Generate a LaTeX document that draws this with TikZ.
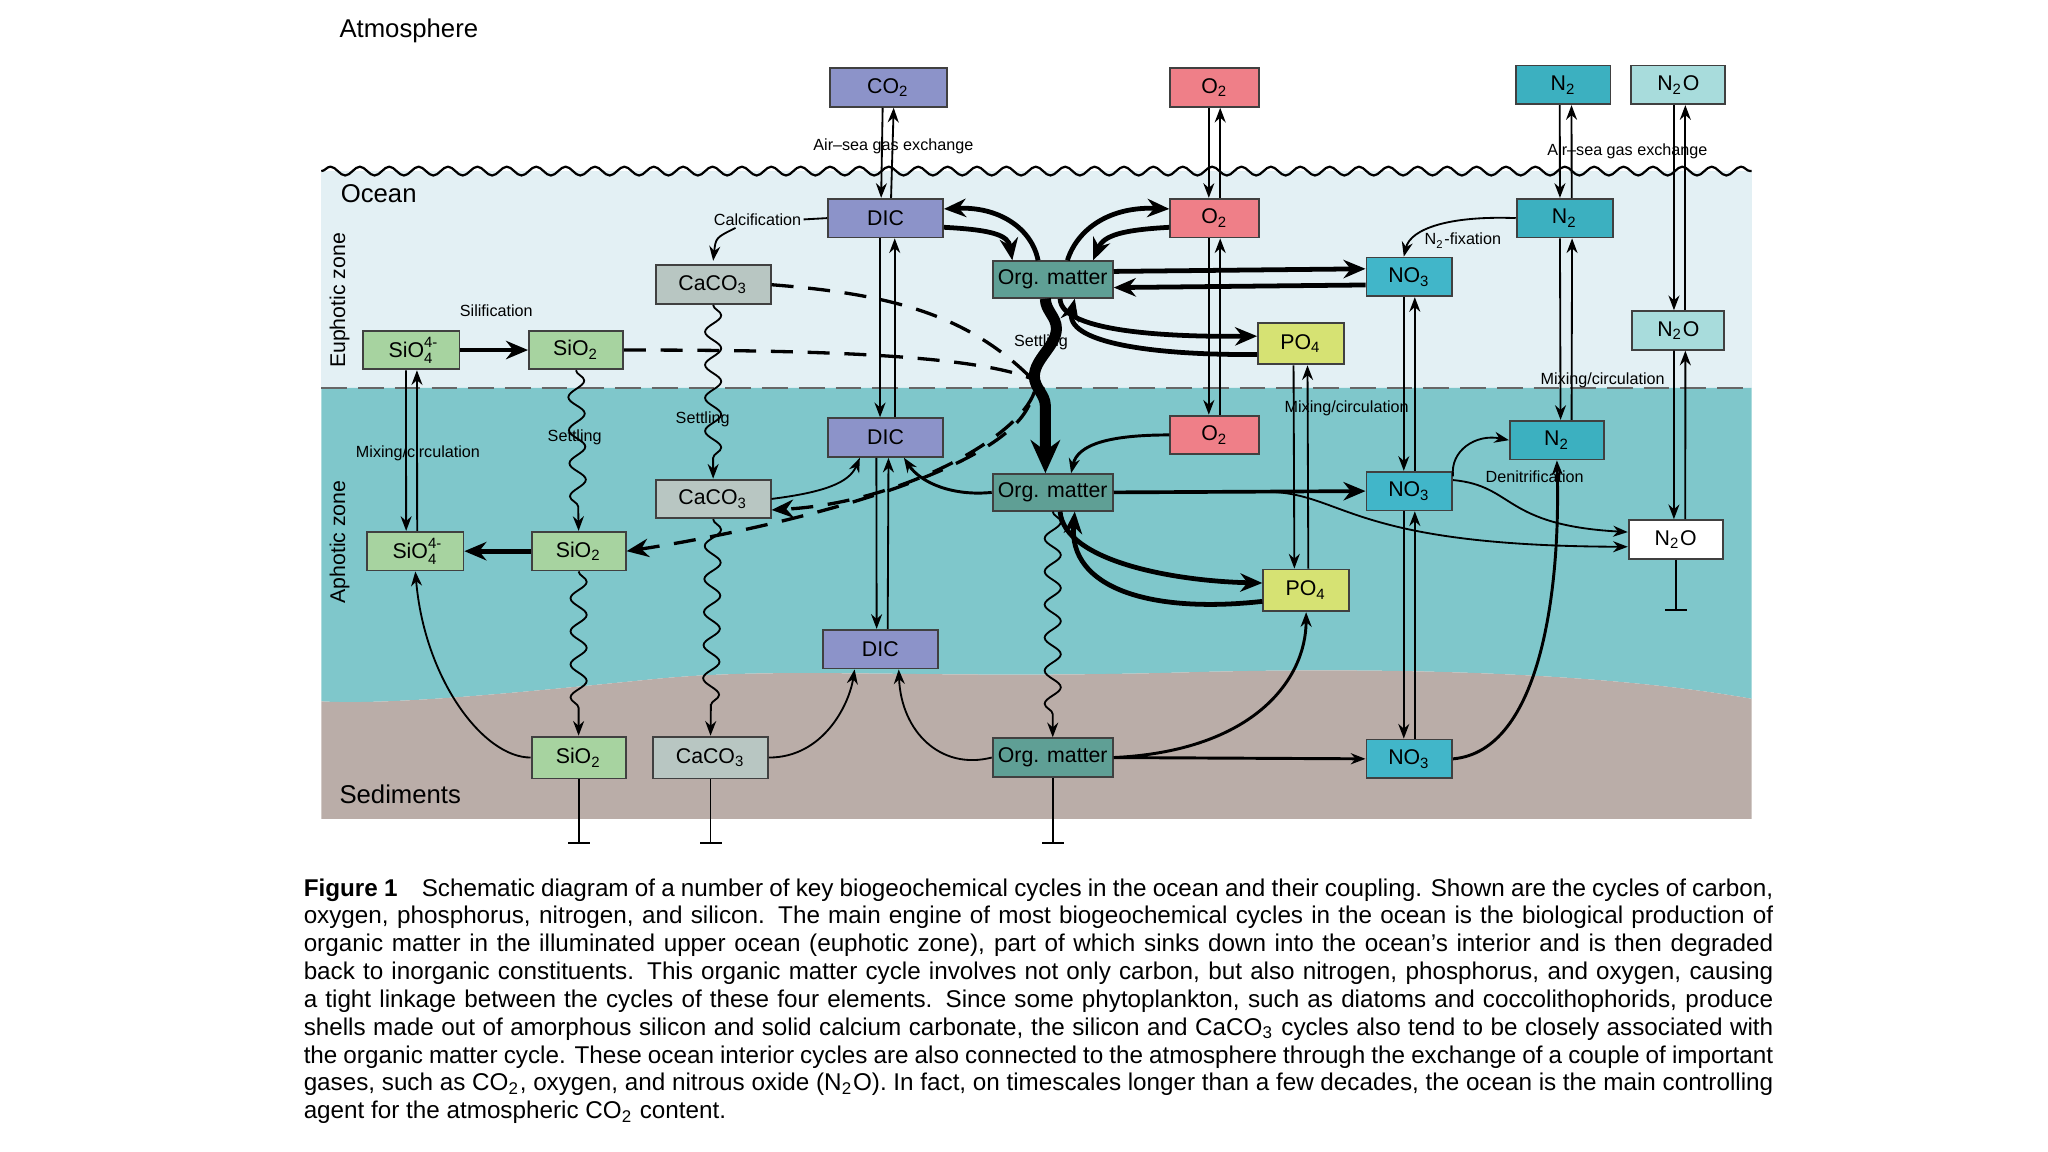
\documentclass[tikz,border=0pt]{standalone}
\usepackage{fontspec}
\setmainfont{Liberation Sans}
\usetikzlibrary{decorations.pathmorphing,arrows.meta,calc}
\definecolor{cdic}{HTML}{8C93C9}
\definecolor{co2}{HTML}{EF7F88}
\definecolor{cn2}{HTML}{3CB0C0}
\definecolor{cn2o}{HTML}{A8DCDC}
\definecolor{cno3}{HTML}{41B6C9}
\definecolor{corg}{HTML}{5F9F95}
\definecolor{cpo4}{HTML}{D6E273}
\definecolor{csio}{HTML}{A7D3A0}
\definecolor{ccac}{HTML}{B8C6C2}
\definecolor{ceu}{HTML}{E3F0F4}
\definecolor{caph}{HTML}{7FC7CB}
\definecolor{csed}{HTML}{BAADA8}
\newcommand{\sub}[1]{\textsubscript{#1}}
\newcommand{\sifour}{SiO\makebox[0pt][l]{\raisebox{0.3pt}{\textsuperscript{4-}}}\raisebox{-0.6pt}{\textsubscript{4}}\hspace{0.5em}}
\begin{document}
\begin{tikzpicture}[x=0.0125cm,y=-0.0125cm,
 box/.style={draw=black!75,line width=0.5pt,minimum height=0.37cm,inner sep=0pt,font=\fontsize{5.8}{6.5}\selectfont},
 lab/.style={font=\fontsize{4.4}{5}\selectfont,inner sep=0.5pt},
 a/.style={-{Stealth[length=4pt,width=3pt]},line width=0.5pt},
 A/.style={-{Stealth[length=6pt,width=5pt]},line width=1.3pt},
 w/.style={a,decorate,decoration={snake,amplitude=2.2pt,segment length=9pt,post length=5pt}},
 dsh/.style={dashed,dash pattern=on 6pt off 4pt,line width=0.9pt},
 gnd/.style={-{Bar[width=6pt]},line width=0.5pt}]
\useasboundingbox (0,0) rectangle (1568,882);
% backgrounds
\fill[ceu] (246,131) rectangle (1341,297);
\fill[caph] (246,297) -- (1341,297) -- (1341,535) .. controls (1200,510) and (1000,512) .. (900,515) .. controls (700,520) and (600,510) .. (500,520) .. controls (400,530) and (300,540) .. (246,537) -- cycle;
\fill[csed] (246,537) .. controls (300,540) and (400,530) .. (500,520) .. controls (600,510) and (700,520) .. (900,515) .. controls (1000,512) and (1200,510) .. (1341,535) -- (1341,627) -- (246,627) -- cycle;
\draw[line width=0.6pt,decorate,decoration={snake,amplitude=1.2pt,segment length=8pt}] (246,131) -- (1341,131);
\draw[dash pattern=on 7pt off 3pt,line width=0.5pt,black!60] (246,297) -- (1341,297);
\node[anchor=west,font=\fontsize{7}{8}\selectfont] (tatm) at (250,24) {Atmosphere};
\node[anchor=west,font=\fontsize{7}{8}\selectfont] (toc) at (251,148) {Ocean};
\node[anchor=west,font=\fontsize{7}{8}\selectfont] (tsed) at (250,608) {Sediments};
\node[rotate=90,font=\fontsize{5.8}{6}\selectfont] (teu) at (260,230) {Euphotic zone};
\node[rotate=90,font=\fontsize{5.8}{6}\selectfont] (taph) at (260,415) {Aphotic zone};
% boxes
\node[box,fill=cdic,minimum width=1.12cm] (co2a) at (680,67) {CO\sub2};
\node[box,fill=co2,minimum width=0.85cm] (o2a) at (930,67) {O\sub2};
\node[box,fill=cn2,minimum width=0.9cm] (n2a) at (1197,65) {N\sub2};
\node[box,fill=cn2o,minimum width=0.9cm] (n2oa) at (1285,65) {N\sub2O};
\node[box,fill=cdic,minimum width=1.1cm] (dic1) at (678,167) {DIC};
\node[box,fill=co2,minimum width=0.85cm] (o2e) at (930,167) {O\sub2};
\node[box,fill=cn2,minimum width=0.92cm] (n2e) at (1198,167) {N\sub2};
\node[box,fill=ccac,minimum width=1.1cm] (cae) at (546,218) {CaCO\sub3};
\node[box,fill=corg,minimum width=1.15cm,minimum height=0.35cm] (orge) at (806,214) {Org. matter};
\node[box,fill=cno3,minimum width=0.82cm] (no3e) at (1079,212) {NO\sub3};
\node[box,fill=csio,minimum width=0.92cm] (sio4e) at (315,268) {\sifour};
\node[box,fill=csio,minimum width=0.9cm] (sio2e) at (441,268) {SiO\sub2};
\node[box,fill=cpo4,minimum width=0.82cm,minimum height=0.4cm] (po4e) at (996,263) {PO\sub4};
\node[box,fill=cn2o,minimum width=0.88cm] (n2oe) at (1285,253) {N\sub2O};
\node[box,fill=cdic,minimum width=1.1cm] (dic2) at (678,335) {DIC};
\node[box,fill=co2,minimum width=0.85cm] (o2p) at (930,333) {O\sub2};
\node[box,fill=cn2,minimum width=0.9cm] (n2p) at (1192,337) {N\sub2};
\node[box,fill=ccac,minimum width=1.1cm] (cap2) at (546,382) {CaCO\sub3};
\node[box,fill=corg,minimum width=1.15cm,minimum height=0.35cm] (orgp) at (806,377) {Org. matter};
\node[box,fill=cno3,minimum width=0.82cm] (no3p) at (1079,376) {NO\sub3};
\node[box,fill=csio,minimum width=0.92cm] (sio4p) at (318,422) {\sifour};
\node[box,fill=csio,minimum width=0.9cm] (sio2p) at (443,422) {SiO\sub2};
\node[box,fill=white,minimum width=0.9cm] (n2op) at (1283,413) {N\sub2O};
\node[box,fill=cpo4,minimum width=0.82cm,minimum height=0.4cm] (po4p) at (1000,452) {PO\sub4};
\node[box,fill=cdic,minimum width=1.1cm] (dic3) at (674,497) {DIC};
\node[box,fill=csio,minimum width=0.9cm,minimum height=0.4cm] (sio2s) at (443,580) {SiO\sub2};
\node[box,fill=ccac,minimum width=1.1cm,minimum height=0.4cm] (cas) at (544,580) {CaCO\sub3};
\node[box,fill=corg,minimum width=1.15cm] (orgs) at (806,580) {Org. matter};
\node[box,fill=cno3,minimum width=0.82cm] (no3s) at (1079,581) {NO\sub3};
\coordinate (g1) at (443,646); \coordinate (g2) at (544,646); \coordinate (g3) at (806,646); \coordinate (g4) at (1283,468);
% labels
\node[lab] (l1) at (684,112) {Air--sea gas exchange};
\node[lab] (l2) at (1246,116) {Air--sea gas exchange};
\node[lab] (l3) at (580,168) {Calcification};
\node[lab] (l4) at (380,238) {Silification};
\node[lab] (l5) at (320,347) {Mixing/circulation};
\node[lab] (l6) at (440,335) {Settling};
\node[lab] (l7) at (538,321) {Settling};
\node[lab] (l8) at (797,262) {Settling};
\node[lab] (l9) at (1031,313) {Mixing/circulation};
\node[lab] (l10) at (1227,291) {Mixing/circulation};
\node[lab] (l11) at (1120,184) {N\sub2-fixation};
\node[lab] (l12) at (1175,365) {Denitrification};
% gas exchange
\draw[a] ([xshift=-1.5pt]co2a.south) -- ([xshift=-1.2pt]dic1.north);
\draw[a] ([xshift=1.5pt]dic1.north) -- ([xshift=1.5pt]co2a.south);
\draw[a] ([xshift=-1.6pt]o2a.south) -- ([xshift=-1.6pt]o2e.north);
\draw[a] ([xshift=1.5pt]o2e.north) -- ([xshift=1.5pt]o2a.south);
\draw[a] ([xshift=-1.6pt]o2e.south) -- ([xshift=-1.6pt]o2p.north);
\draw[a] ([xshift=1.5pt]o2p.north) -- ([xshift=1.5pt]o2e.south);
\draw[a] ([xshift=-1pt]n2a.south) -- ([xshift=-1.3pt]n2e.north);
\draw[a] ([xshift=1.9pt]n2e.north) -- ([xshift=2.2pt]n2a.south);
\draw[a] ([xshift=-1.2pt]n2oa.south) -- ([xshift=-1.2pt]n2oe.north);
\draw[a] ([xshift=1.9pt]n2oe.north) -- ([xshift=1.9pt]n2oa.south);
\draw[a] ([xshift=-1.2pt]n2oe.south) -- ([xshift=-0.5pt]n2op.north);
\draw[a] ([xshift=2.6pt]n2op.north) -- ([xshift=1.9pt]n2oe.south);
\draw[gnd] (n2op.south) -- (g4);
\draw[a] ([xshift=-1.3pt]n2e.south) -- ([xshift=1pt]n2p.north);
\draw[a] ([xshift=4pt]n2p.north) -- ([xshift=2pt]n2e.south);
\draw[a] (n2e.west) .. controls (1110,165) and (1080,175) .. ([xshift=-1.5pt]no3e.north);
% DIC vertical
\draw[a] ([xshift=-1.5pt]dic1.south) -- ([xshift=-1.5pt]dic2.north);
\draw[a] ([xshift=2.5pt]dic2.north) -- ([xshift=2.5pt]dic1.south);
\draw[a] ([xshift=-2.5pt]dic2.south) -- ([xshift=-1pt]dic3.north);
\draw[a] ([xshift=2pt]dic3.north) -- ([xshift=0.8pt]dic2.south);
% Org euphotic links
\draw[A] ([xshift=-4pt]orge.north) .. controls (790,175) and (765,158) .. ([yshift=2.5pt]dic1.east);
\draw[A] ([yshift=-2.5pt]dic1.east) .. controls (760,176) and (772,180) .. ([xshift=-11pt]orge.north);
\draw[A] ([xshift=4pt]orge.north) .. controls (825,175) and (850,158) .. ([yshift=2.5pt]o2e.west);
\draw[A] ([yshift=-2.5pt]o2e.west) .. controls (860,176) and (845,180) .. ([xshift=11pt]orge.north);
\draw[A] ([yshift=2.2pt]orge.east) -- ([yshift=2.2pt]no3e.west);
\draw[A] ([yshift=-2.2pt]no3e.west) -- ([yshift=-2.2pt]orge.east);
\draw[A] ([xshift=2pt]orge.south) .. controls (812,255) and (900,258) .. ([yshift=2pt]po4e.west);
\draw[A] ([yshift=-3pt]po4e.west) .. controls (880,272) and (815,262) .. ([xshift=6pt]orge.south);
\draw[a] ([xshift=-1.5pt]no3e.south) -- ([xshift=-1.5pt]no3p.north);
\draw[a] ([xshift=1.5pt]no3p.north) -- ([xshift=1.5pt]no3e.south);
\draw[a] ([xshift=-1.5pt]no3p.south) -- ([xshift=-1.5pt]no3s.north);
\draw[a] ([xshift=1.5pt]no3s.north) -- ([xshift=1.5pt]no3p.south);
\draw[a] ([xshift=-2pt]po4e.south) -- ([xshift=-3.2pt]po4p.north);
\draw[a] ([xshift=0.6pt]po4p.north) -- ([xshift=1.8pt]po4e.south);
% silicon
\draw[A] (sio4e) -- (sio2e);
\draw[a] ([xshift=-1.5pt]sio4e.south) -- ([xshift=-2.5pt]sio4p.north);
\draw[a] ([xshift=0.5pt]sio4p.north) -- ([xshift=1.5pt]sio4e.south);
\draw[w] (sio2e.south) -- (sio2p.north);
\draw[w] (sio2p.south) -- (sio2s.north);
\draw[gnd] (sio2s.south) -- (g1);
\draw[A] (sio2p) -- (sio4p);
\draw[a] (sio2s.west) .. controls (370,580) and (325,520) .. (sio4p.south);
% calcium
\draw[line width=0.5pt] (l3.east) -- (dic1.west);
\draw[a] ([xshift=-6pt]l3.south) .. controls (548,182) .. ([yshift=1pt]cae.north);
\draw[w] (cae.south) -- (cap2.north);
\draw[w] (cap2.south) -- (cas.north);
\draw[gnd] (cas.south) -- (g2);
\draw[a] (cap2.east) .. controls (630,377) and (650,370) .. ([xshift=-7pt]dic2.south);
\draw[a] (cas.east) .. controls (630,580) and (650,540) .. ([xshift=-7pt]dic3.south);
\draw[a] (orgs.west) .. controls (720,590) and (690,560) .. ([xshift=5pt]dic3.south);
% settling
\coordinate (s1) at (790,290);
\coordinate (s2) at (792,300);
\coordinate (s3) at (788,310);
\draw[dsh] (cae.east) .. controls (680,225) and (740,240) .. (s1);
\draw[dsh] (sio2e.east) .. controls (600,268) and (740,270) .. (s1);
\draw[dsh,-{Stealth[length=6pt,width=5pt]}] (s2) .. controls (780,335) and (690,385) .. ([yshift=-3pt]cap2.east);
\draw[dsh,-{Stealth[length=6pt,width=5pt]}] (s3) .. controls (760,370) and (560,410) .. (sio2p.east);
\draw[-{Stealth[length=9pt,width=8pt]},line width=3pt,decorate,decoration={snake,amplitude=3pt,segment length=26pt,post length=10pt}] ([xshift=-2pt]orge.south) -- ([xshift=-2pt]orgp.north);
% aphotic org
\draw[a,line width=0.8pt] (orgp.west) .. controls (730,380) and (705,370) .. ([xshift=5pt]dic2.south);
\draw[a,line width=0.8pt] (o2p.west) .. controls (850,333) and (825,340) .. ([xshift=5pt]orgp.north);
\draw[A,line width=1pt] (orgp.east) -- (no3p.west);
\draw[A] ([xshift=2pt]orgp.south) .. controls (815,430) and (900,445) .. ([yshift=2pt]po4p.west);
\draw[A] ([yshift=-3pt]po4p.west) .. controls (880,470) and (818,450) .. ([xshift=6pt]orgp.south);
\draw[w] (orgp.south) -- (orgs.north);
\draw[gnd] (orgs.south) -- (g3);
\draw[a] ([yshift=4pt]no3p.east) .. controls (1110,345) and (1130,332) .. (n2p.west);
\draw[a] ([yshift=3pt]no3p.east) .. controls (1160,372) and (1150,402) .. ([yshift=2pt]n2op.west);
\draw[a] ($(orgp.east)!0.6!(no3p.west)$) .. controls (1030,377) and (1030,418) .. ([yshift=-2pt]n2op.west);
\draw[a,line width=0.8pt] (orgs.east) .. controls (960,575) and (1000,520) .. (po4p.south);
\draw[a,line width=0.8pt] (orgs.east) -- (no3s.west);
\draw[a,line width=0.8pt] (no3s.east) .. controls (1180,575) and (1195,450) .. (n2p.south);
% caption
\node[anchor=north west,text width=14.06cm,align=justify,inner sep=0pt,font=\fontsize{6.6}{7.58}\selectfont] (cap) at (232,672) {\textbf{Figure 1}\quad Schematic diagram of a number of key biogeochemical cycles in the ocean and their coupling. Shown are the cycles of carbon, oxygen, phosphorus, nitrogen, and silicon. The main engine of most biogeochemical cycles in the ocean is the biological production of organic matter in the illuminated upper ocean (euphotic zone), part of which sinks down into the ocean's interior and is then degraded back to inorganic constituents. This organic matter cycle involves not only carbon, but also nitrogen, phosphorus, and oxygen, causing a tight linkage between the cycles of these four elements. Since some phytoplankton, such as diatoms and coccolithophorids, produce shells made out of amorphous silicon and solid calcium carbonate, the silicon and CaCO\sub3 cycles also tend to be closely associated with the organic matter cycle. These ocean interior cycles are also connected to the atmosphere through the exchange of a couple of important gases, such as CO\sub2, oxygen, and nitrous oxide (N\sub2O). In fact, on timescales longer than a few decades, the ocean is the main controlling agent for the atmospheric CO\sub2 content.};
\end{tikzpicture}
\end{document}
